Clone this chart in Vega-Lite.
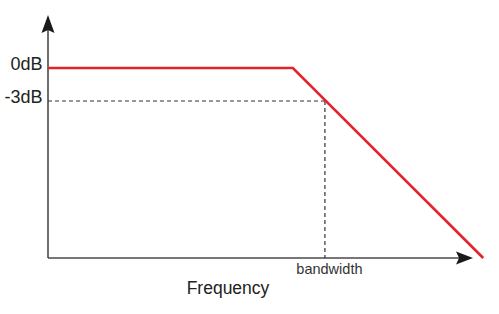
{
  "$schema": "https://vega.github.io/schema/vega-lite/v6.json",
  "width": 451,
  "height": 243,
  "autosize": {"type": "none"},
  "padding": {"left": 48, "top": 15, "right": 0, "bottom": 56},
  "background": "white",
  "config": {"view": {"stroke": null}, "font": "Liberation Sans"},
  "datasets": {
    "response": [
      {"freq": 0, "gain": 0},
      {"freq": 54.3, "gain": 0},
      {"freq": 96.5, "gain": -17.27}
    ],
    "cutoff": [
      {"freq": 0, "freq2": 61.4, "gain": -3, "gain2": -3},
      {"freq": 61.4, "freq2": 61.4, "gain": -3, "gain2": -17.27}
    ],
    "axes": [
      {"freq": 0, "freq2": 0, "gain": -17.27, "gain2": 4.4},
      {"freq": 0, "freq2": 93.5, "gain": -17.27, "gain2": -17.27}
    ],
    "yarrow": [{"freq": 0, "gain": 4.82}],
    "xarrow": [{"freq": 94.24, "gain": -17.27}]
  },
  "layer": [
    {
      "data": {"name": "axes"},
      "mark": {"type": "rule", "color": "#4a4a4a", "strokeWidth": 1.6},
      "encoding": {
        "x": {"field": "freq", "type": "quantitative", "scale": {"domain": [0, 100], "nice": false, "zero": false},
          "axis": {"values": [61.4], "labelExpr": "'bandwidth'", "domain": false, "ticks": false, "grid": false,
            "labelFontSize": 14.5, "labelColor": "#333333", "labelPadding": 4, "labelOffset": 4, "labelFont": "Liberation Sans",
            "title": "Frequency", "titleFontSize": 17.5, "titleFontWeight": "normal", "titleColor": "#222222", "titleFont": "Liberation Sans",
            "titleX": 179.5, "titleY": 35, "titleAlign": "center", "titleBaseline": "alphabetic", "titleAnchor": null}},
        "x2": {"field": "freq2"},
        "y": {"field": "gain", "type": "quantitative", "scale": {"domain": [-17.27, 4.82], "nice": false, "zero": false},
          "axis": {"values": [0, -3], "labelExpr": "datum.value == 0 ? '0dB' : '-3dB'", "domain": false, "ticks": false, "grid": false,
            "labelFontSize": 18, "labelColor": "#222222", "labelPadding": 6, "labelBaseline": "alphabetic", "labelOffset": 1, "labelFont": "Liberation Sans", "title": null}},
        "y2": {"field": "gain2"}
      }
    },
    {
      "data": {"name": "cutoff"},
      "mark": {"type": "rule", "color": "#333333", "strokeWidth": 1.2, "strokeDash": [4, 3]},
      "encoding": {
        "x": {"field": "freq", "type": "quantitative"},
        "x2": {"field": "freq2"},
        "y": {"field": "gain", "type": "quantitative"},
        "y2": {"field": "gain2"}
      }
    },
    {
      "data": {"name": "response"},
      "mark": {"type": "line", "color": "#e3242b", "strokeWidth": 2.6, "clip": false},
      "encoding": {
        "x": {"field": "freq", "type": "quantitative"},
        "y": {"field": "gain", "type": "quantitative"}
      }
    },
    {
      "data": {"name": "yarrow"},
      "mark": {"type": "point", "shape": "M0,0L-0.65,1.8L0,1.5L0.65,1.8Z", "size": 400, "filled": true, "color": "#1a1a1a", "opacity": 1},
      "encoding": {
        "x": {"field": "freq", "type": "quantitative"},
        "y": {"field": "gain", "type": "quantitative"}
      }
    },
    {
      "data": {"name": "xarrow"},
      "mark": {"type": "point", "shape": "M0,0L-1.7,-0.65L-1.4,0L-1.7,0.65Z", "size": 400, "filled": true, "color": "#1a1a1a", "opacity": 1},
      "encoding": {
        "x": {"field": "freq", "type": "quantitative"},
        "y": {"field": "gain", "type": "quantitative"}
      }
    }
  ]
}
